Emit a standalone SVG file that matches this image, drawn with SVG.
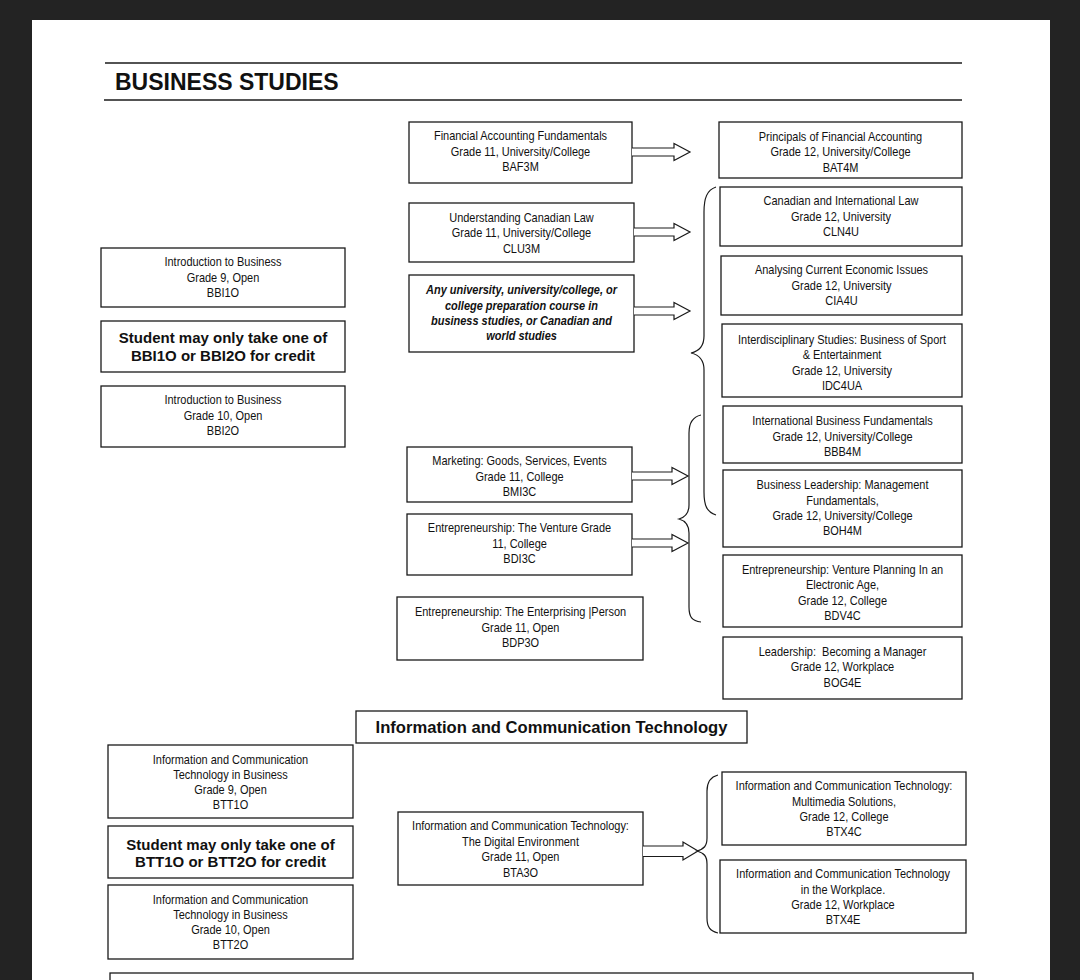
<svg xmlns="http://www.w3.org/2000/svg" width="1080" height="980" viewBox="0 0 1080 980">
<style>
.bg{fill:#232323}
.page{fill:#ffffff}
.box{fill:#ffffff;stroke:#1a1a1a;stroke-width:1.3}
.rule{stroke:#1a1a1a;stroke-width:1.3}
.t{font-family:"Liberation Sans",Arial,sans-serif;font-size:13px;text-anchor:middle;fill:#111}
.it{font-family:"Liberation Sans",Arial,sans-serif;font-size:13px;font-weight:bold;font-style:italic;text-anchor:middle;fill:#111}
.note{font-family:"Liberation Sans",Arial,sans-serif;font-size:15px;font-weight:bold;text-anchor:middle;fill:#111}
.h1{font-family:"Liberation Sans",Arial,sans-serif;font-size:23px;font-weight:bold;fill:#111}
.h2{font-family:"Liberation Sans",Arial,sans-serif;font-size:16.6px;font-weight:bold;text-anchor:middle;fill:#111}
.arrow{fill:#ffffff;stroke:#1a1a1a;stroke-width:1.2;stroke-linejoin:miter}
.brace{fill:none;stroke:#1a1a1a;stroke-width:1.2}
</style>
<rect class="bg" x="0" y="0" width="1080" height="980"/>
<rect class="page" x="32" y="20" width="1018" height="960"/>

<g id="header">
<line class="rule" x1="105" y1="63" x2="962" y2="63"/>
<line class="rule" x1="104" y1="100" x2="962" y2="100"/>
<text class="h1" x="115" y="90">BUSINESS STUDIES</text>
</g>

<g id="bbi1o"><rect class="box" x="101" y="248" width="244" height="59"/>
<text class="t" transform="translate(223 0) scale(0.845 1)"><tspan x="0" y="266.5">Introduction to Business</tspan><tspan x="0" dy="15.5">Grade 9, Open</tspan><tspan x="0" dy="15.5">BBI1O</tspan></text></g>

<g id="note-bbi"><rect class="box" x="101" y="321" width="244" height="51"/>
<text class="note"><tspan x="223" y="342.5">Student may only take one of</tspan><tspan x="223" dy="18">BBI1O or BBI2O for credit</tspan></text></g>

<g id="bbi2o"><rect class="box" x="101" y="386" width="244" height="61"/>
<text class="t" transform="translate(223 0) scale(0.845 1)"><tspan x="0" y="404.5">Introduction to Business</tspan><tspan x="0" dy="15.5">Grade 10, Open</tspan><tspan x="0" dy="15.5">BBI2O</tspan></text></g>

<g id="baf3m"><rect class="box" x="409" y="122" width="223" height="61"/>
<text class="t" transform="translate(520.5 0) scale(0.845 1)"><tspan x="0" y="140.5">Financial Accounting Fundamentals</tspan><tspan x="0" dy="15.5">Grade 11, University/College</tspan><tspan x="0" dy="15.5">BAF3M</tspan></text></g>

<g id="clu3m"><rect class="box" x="409" y="203" width="225" height="59"/>
<text class="t" transform="translate(521.5 0) scale(0.845 1)"><tspan x="0" y="222">Understanding Canadian Law</tspan><tspan x="0" dy="15.5">Grade 11, University/College</tspan><tspan x="0" dy="15.5">CLU3M</tspan></text></g>

<g id="any-course"><rect class="box" x="409" y="275" width="225" height="77"/>
<text class="it" transform="translate(521.5 0) scale(0.845 1)"><tspan x="0" y="294.5">Any university, university/college, or</tspan><tspan x="0" dy="15.3">college preparation course in</tspan><tspan x="0" dy="15.3">business studies, or Canadian and</tspan><tspan x="0" dy="15.3">world studies</tspan></text></g>

<g id="bmi3c"><rect class="box" x="407" y="447" width="225" height="55"/>
<text class="t" transform="translate(519.5 0) scale(0.845 1)"><tspan x="0" y="465.5">Marketing: Goods, Services, Events</tspan><tspan x="0" dy="15.5">Grade 11, College</tspan><tspan x="0" dy="15.5">BMI3C</tspan></text></g>

<g id="bdi3c"><rect class="box" x="407" y="514" width="225" height="61"/>
<text class="t" transform="translate(519.5 0) scale(0.845 1)"><tspan x="0" y="532.5">Entrepreneurship: The Venture Grade</tspan><tspan x="0" dy="15.5">11, College</tspan><tspan x="0" dy="15.5">BDI3C</tspan></text></g>

<g id="bdp3o"><rect class="box" x="397" y="597" width="246" height="63"/>
<text class="t" transform="translate(520.5 0) scale(0.845 1)"><tspan x="0" y="616.5">Entrepreneurship: The Enterprising |Person</tspan><tspan x="0" dy="15.5">Grade 11, Open</tspan><tspan x="0" dy="15.5">BDP3O</tspan></text></g>

<g id="bat4m"><rect class="box" x="719" y="122" width="243" height="56"/>
<text class="t" transform="translate(840.5 0) scale(0.845 1)"><tspan x="0" y="141">Principals of Financial Accounting</tspan><tspan x="0" dy="15.5">Grade 12, University/College</tspan><tspan x="0" dy="15.5">BAT4M</tspan></text></g>

<g id="cln4u"><rect class="box" x="720" y="187" width="242" height="59"/>
<text class="t" transform="translate(841 0) scale(0.845 1)"><tspan x="0" y="205.5">Canadian and International Law</tspan><tspan x="0" dy="15.5">Grade 12, University</tspan><tspan x="0" dy="15.5">CLN4U</tspan></text></g>

<g id="cia4u"><rect class="box" x="721" y="256" width="241" height="59"/>
<text class="t" transform="translate(841.5 0) scale(0.845 1)"><tspan x="0" y="274.5">Analysing Current Economic Issues</tspan><tspan x="0" dy="15.5">Grade 12, University</tspan><tspan x="0" dy="15.5">CIA4U</tspan></text></g>

<g id="idc4ua"><rect class="box" x="722" y="324" width="240" height="73"/>
<text class="t" transform="translate(842 0) scale(0.845 1)"><tspan x="0" y="344">Interdisciplinary Studies: Business of Sport</tspan><tspan x="0" dy="15.3">&amp; Entertainment</tspan><tspan x="0" dy="15.3">Grade 12, University</tspan><tspan x="0" dy="15.3">IDC4UA</tspan></text></g>

<g id="bbb4m"><rect class="box" x="723" y="406" width="239" height="57"/>
<text class="t" transform="translate(842.5 0) scale(0.845 1)"><tspan x="0" y="425.5">International Business Fundamentals</tspan><tspan x="0" dy="15.5">Grade 12, University/College</tspan><tspan x="0" dy="15.5">BBB4M</tspan></text></g>

<g id="boh4m"><rect class="box" x="723" y="470" width="239" height="77"/>
<text class="t" transform="translate(842.5 0) scale(0.845 1)"><tspan x="0" y="489.5">Business Leadership: Management</tspan><tspan x="0" dy="15.3">Fundamentals,</tspan><tspan x="0" dy="15.3">Grade 12, University/College</tspan><tspan x="0" dy="15.3">BOH4M</tspan></text></g>

<g id="bdv4c"><rect class="box" x="723" y="555" width="239" height="72"/>
<text class="t" transform="translate(842.5 0) scale(0.845 1)"><tspan x="0" y="574">Entrepreneurship: Venture Planning In an</tspan><tspan x="0" dy="15.3">Electronic Age,</tspan><tspan x="0" dy="15.3">Grade 12, College</tspan><tspan x="0" dy="15.3">BDV4C</tspan></text></g>

<g id="bog4e"><rect class="box" x="723" y="637" width="239" height="62"/>
<text class="t" xml:space="preserve" transform="translate(842.5 0) scale(0.845 1)"><tspan x="0" y="656">Leadership:  Becoming a Manager</tspan><tspan x="0" y="671.5">Grade 12, Workplace</tspan><tspan x="0" y="687">BOG4E</tspan></text></g>

<g id="ict-title"><rect class="box" x="356" y="711" width="391" height="32"/>
<text class="h2" x="551.5" y="733">Information and Communication Technology</text></g>

<g id="btt1o"><rect class="box" x="108" y="745" width="245" height="73"/>
<text class="t" transform="translate(230.5 0) scale(0.845 1)"><tspan x="0" y="764.5">Information and Communication</tspan><tspan x="0" dy="15">Technology in Business</tspan><tspan x="0" dy="15">Grade 9, Open</tspan><tspan x="0" dy="15">BTT1O</tspan></text></g>

<g id="note-btt"><rect class="box" x="108" y="826" width="245" height="52"/>
<text class="note"><tspan x="230.5" y="849.5">Student may only take one of</tspan><tspan x="230.5" dy="17.5">BTT1O or BTT2O for credit</tspan></text></g>

<g id="btt2o"><rect class="box" x="108" y="885" width="245" height="74"/>
<text class="t" transform="translate(230.5 0) scale(0.845 1)"><tspan x="0" y="904.5">Information and Communication</tspan><tspan x="0" dy="15">Technology in Business</tspan><tspan x="0" dy="15">Grade 10, Open</tspan><tspan x="0" dy="15">BTT2O</tspan></text></g>

<g id="bta3o"><rect class="box" x="398" y="812" width="245" height="73"/>
<text class="t" transform="translate(520.5 0) scale(0.845 1)"><tspan x="0" y="830.5">Information and Communication Technology:</tspan><tspan x="0" dy="15.5">The Digital Environment</tspan><tspan x="0" dy="15.5">Grade 11, Open</tspan><tspan x="0" dy="15.5">BTA3O</tspan></text></g>

<g id="btx4c"><rect class="box" x="722" y="772" width="244" height="73"/>
<text class="t" transform="translate(844 0) scale(0.845 1)"><tspan x="0" y="790.5">Information and Communication Technology:</tspan><tspan x="0" dy="15.3">Multimedia Solutions,</tspan><tspan x="0" dy="15.3">Grade 12, College</tspan><tspan x="0" dy="15.3">BTX4C</tspan></text></g>

<g id="btx4e"><rect class="box" x="720" y="860" width="246" height="73"/>
<text class="t" transform="translate(843 0) scale(0.845 1)"><tspan x="0" y="878.5">Information and Communication Technology</tspan><tspan x="0" dy="15.3">in the Workplace.</tspan><tspan x="0" dy="15.3">Grade 12, Workplace</tspan><tspan x="0" dy="15.3">BTX4E</tspan></text></g>

<g id="bottom-box"><rect class="box" x="110" y="973" width="863" height="20"/></g>

<g id="connectors">
<path class="arrow" d="M632,148 H674 V143.5 L690,152 L674,160.5 V156 H632"/>
<path class="arrow" d="M634,228 H674 V223.5 L690,232 L674,240.5 V236 H634"/>
<path class="arrow" d="M634,307 H674 V302.5 L690,311 L674,319.5 V315 H634"/>
<path class="arrow" d="M632,472 H672 V467.5 L688,476 L672,484.5 V480 H632"/>
<path class="arrow" d="M632,539 H672 V534.5 L688,543 L672,551.5 V547 H632"/>
<path class="arrow" d="M643,846 H683 V842 L698,851 L683,860 V856.5 H643"/>
<path class="brace" d="M716,187 C707,190 704,198 704,212 L704,336 C704,346 700,351 691,353 C700,355 704,360 704,370 L704,492 C704,506 707,512 716,515"/>
<path class="brace" d="M701,415 C692,417 689,423 689,433 L689,505 C689,513 686,517 679,519 C686,521 689,525 689,533 L689,607 C689,617 692,621 701,622"/>
<path class="brace" d="M718,775 C710,777 707,782 707,791 L707,838 C707,846 704,849 697,851 C704,853 707,856 707,864 L707,918 C707,927 710,931 718,933"/>
</g>
</svg>
